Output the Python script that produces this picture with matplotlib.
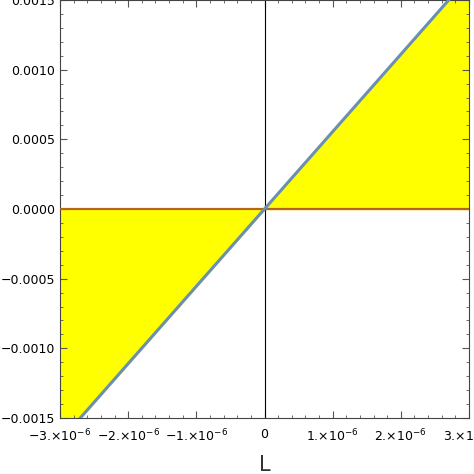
import matplotlib
matplotlib.use("Agg")
import matplotlib.pyplot as plt
import numpy as np
from matplotlib.ticker import MultipleLocator

x_range = [-3e-6, 3e-6]
y_range = [-0.0015, 0.0015]
slope = 555.0
x_ticks = [-3e-6, -2e-6, -1e-6, 0, 1e-6, 2e-6, 3e-6]
x_labels = ["−3.×10$^{-6}$", "−2.×10$^{-6}$", "−1.×10$^{-6}$", "0", "1.×10$^{-6}$", "2.×10$^{-6}$", "3.×10$^{-6}$"]
y_ticks = [-0.0015, -0.0010, -0.0005, 0.0, 0.0005, 0.0010, 0.0015]
y_labels = ["−0.0015", "−0.0010", "−0.0005", "0.0000", "0.0005", "0.0010", "0.0015"]

fig = plt.figure(figsize=(4.74, 4.74), dpi=100)
ax = fig.add_axes([60/474, 1-418/474, 409/474, 418/474])
xs = np.linspace(x_range[0], x_range[1], 400)
line = slope * xs
ax.fill_between(xs, 0, line, color="#ffff00", zorder=1)
ax.axvline(0, color="black", lw=0.8, zorder=2)
ax.plot(xs, np.zeros_like(xs), color="#b5651d", lw=1.6, zorder=3)
ax.plot(xs, line, color="#6b8fb0", lw=2.2, zorder=4)
ax.set_xlim(*x_range); ax.set_ylim(*y_range)
ax.set_xticks(x_ticks); ax.set_xticklabels(x_labels)
ax.set_yticks(y_ticks); ax.set_yticklabels(y_labels)
ax.xaxis.set_minor_locator(MultipleLocator(2e-7))
ax.yaxis.set_minor_locator(MultipleLocator(0.0001))
ax.tick_params(direction="in", which="both", top=True, right=True, labelsize=9, color="#555555")
ax.tick_params(which="major", length=5)
ax.tick_params(which="minor", length=2.5)
ax.tick_params(axis="x", pad=7)
ax.set_xlabel("L", fontsize=15, color="#333333", labelpad=8)
for s in ax.spines.values():
    s.set_color("#444444")
fig.savefig("out.png", dpi=100)
